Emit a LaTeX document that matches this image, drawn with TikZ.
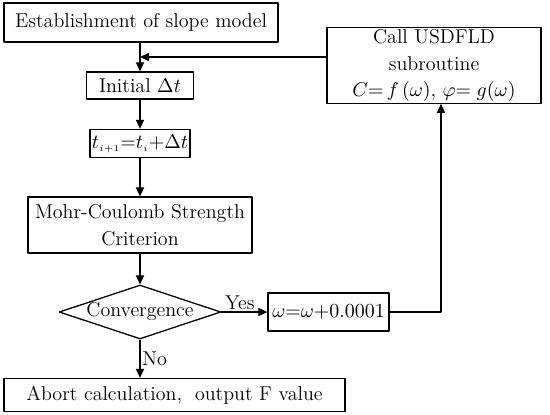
\documentclass[tikz,border=0pt]{standalone}
\usetikzlibrary{arrows.meta,shapes.geometric}

\tikzset{
  procbox/.style={draw,line width=0.7pt,rectangle,inner sep=1pt,align=center,font=\fontsize{11}{14.5}\selectfont},
  decbox/.style={draw,line width=0.7pt,diamond,aspect=3,inner sep=0pt,font=\fontsize{11}{14}\selectfont},
  flow/.style={line width=0.7pt,-{Triangle[length=5pt,width=4.5pt]}},
  lbl/.style={font=\fontsize{11}{14}\selectfont,inner sep=1pt}
}

\begin{document}
\begin{tikzpicture}[x=0.55pt,y=-0.55pt,line join=round]
    \useasboundingbox (0,0) rectangle (550,414);

    % Main column
    \node[procbox,minimum width=274*0.55pt,minimum height=39*0.55pt] (model) at (141,22.5) {Establishment of slope model};
    \node[procbox,minimum width=107*0.55pt,minimum height=27*0.55pt] (init) at (140,85.5) {Initial $\Delta t$};
    \node[procbox,minimum width=93*0.55pt,minimum height=28*0.55pt] (step) at (140,143.5) {$t_{\scriptscriptstyle i+1}{=}t_{\scriptscriptstyle i}{+}\Delta t$};
    \node[procbox,minimum width=224*0.55pt,minimum height=56*0.55pt] (mohr) at (140,225) {Mohr-Coulomb Strength\\Criterion};
    \node[decbox,minimum width=160*0.55pt,minimum height=54*0.55pt] (conv) at (140,312) {Convergence};
    \node[procbox,minimum width=341*0.55pt,minimum height=33*0.55pt] (abort) at (174.5,395) {Abort calculation,\ \ output F value};

    % Right branch
    \node[procbox,minimum width=121*0.55pt,minimum height=38*0.55pt] (omega) at (328.5,312) {$\omega{=}\omega{+}0.0001$};
    \node[procbox,minimum width=214*0.55pt,minimum height=73*0.55pt] (call) at (434,65.5) {Call USDFLD\\subroutine\\$C{=}\,f\,(\omega)$, $\varphi{=}\;g(\omega)$};

    \coordinate (join) at (140,57);
    \coordinate (turn) at (441,312);

    % Connectors
    \draw[line width=0.7pt] (join |- model.south) -- (join);
    \draw[flow] (join) -- (init.north);
    \foreach \from/\to in {init/step, step/mohr, mohr/conv}
      \draw[flow] (\from.south) -- (\to.north);
    \draw[flow] (conv.south) -- node[lbl,right] {No} (conv.south |- abort.north);
    \draw[flow] (conv.east) -- node[lbl,above,pos=0.4] {Yes} (omega.west);
    \draw[flow] (omega.east) -- (turn) -- (turn |- call.south);
    \draw[flow] (call.west |- join) -- (join);
\end{tikzpicture}
\end{document}
